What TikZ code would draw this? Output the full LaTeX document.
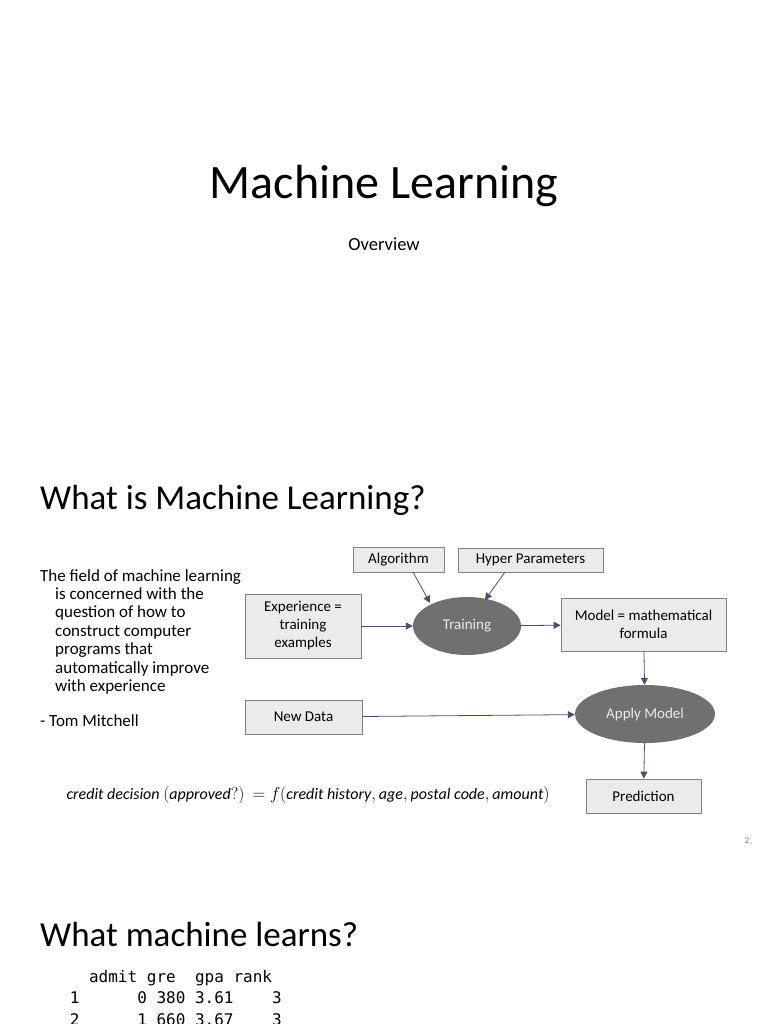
\documentclass[tikz,border=0pt]{standalone}
\usepackage{fontspec}
\setmainfont{Carlito}
\newfontfamily\monof{DejaVu Sans Mono}
\usetikzlibrary{shapes.geometric,arrows.meta}
\begin{document}
\begin{tikzpicture}[x=1pt,y=-1pt,
  bx/.style={draw=black!50,fill=black!8,line width=0.8pt,minimum height=#1,align=center,font=\fontsize{15}{18}\selectfont,inner sep=2pt},
  bx/.default=25pt,
  ell/.style={ellipse,fill=black!56,text=black!8,font=\fontsize{15}{18}\selectfont,inner sep=0pt},
  arr/.style={-{Triangle[length=7pt,width=7pt]},draw=black!60!blue!40!gray,line width=0.8pt}]
\useasboundingbox (0,0) rectangle (768,1024);
\node[font=\fontsize{48}{56}\selectfont] (title) at (384,186) {Machine Learning};
\node[font=\fontsize{18.5}{22}\selectfont] (sub) at (384,244) {Overview};
\node[font=\fontsize{35}{40}\selectfont,anchor=west,inner sep=0pt] (h1) at (40,500) {What is Machine Learning?};
\node[anchor=north west,align=left,font=\fontsize{17}{18.4}\selectfont,inner sep=0pt] (txt) at (40,569)
 {The field of machine learning\\\hspace*{15pt}is concerned with the\\\hspace*{15pt}question of how to\\\hspace*{15pt}construct computer\\\hspace*{15pt}programs that\\\hspace*{15pt}automatically improve\\\hspace*{15pt}with experience};
\node[anchor=west,font=\fontsize{17}{18}\selectfont,inner sep=0pt] (tm) at (40,721) {- Tom Mitchell};
\node[bx,minimum width=91pt] (alg) at (398.5,559.5) {Algorithm};
\node[bx,minimum width=145pt,minimum height=24pt] (hyp) at (530.5,560) {Hyper Parameters};
\node[bx=64pt,minimum width=116pt] (exp) at (303,626) {Experience =\\training\\examples};
\node[ell,minimum width=108pt,minimum height=58pt] (tr) at (467,626) {Training};
\node[bx=53pt,minimum width=165pt] (mod) at (643.5,624.5) {Model = mathematical\\formula};
\node[ell,minimum width=140pt,minimum height=58pt] (app) at (645,714) {Apply Model};
\node[bx=34pt,minimum width=117pt] (nd) at (303.5,717) {New Data};
\node[bx=34pt,minimum width=115pt] (pred) at (643.5,796) {Prediction};
\coordinate (a1) at (413,572);
\coordinate (a2) at (430,603);
\coordinate (h1s) at (505,572);
\coordinate (h2e) at (485,600);
\draw[arr] (a1) -- (a2);
\draw[arr] (h1s) -- (h2e);
\draw[arr] (exp) -- (tr);
\draw[arr] (tr) -- (mod);
\draw[arr] (nd) -- (app);
\draw[arr] (mod) -- (app);
\draw[arr] (app) -- (pred);
\node[font=\fontsize{16}{18}\selectfont] (f) at (308,795) {$\mathit{credit\ decision}\ (\mathit{approved?})\ = f(\mathit{credit\ history}, \mathit{age}, \mathit{postal\ code}, \mathit{amount})$};
\node[font=\fontsize{9}{10}\selectfont,text=black!50] (pg) at (747,841) {2};
\node[font=\fontsize{35}{40}\selectfont,anchor=west,inner sep=0pt] (h2) at (40,934) {What machine learns?};
\node[anchor=west,font=\monof\fontsize{16}{21.5}\selectfont,inner sep=0pt,align=left] (tab) at (60,998)
 {\ \ \ admit gre \ gpa rank\\ \ 1 \ \ \ \ \ 0 380 3.61 \ \ \ 3\\ \ 2 \ \ \ \ \ 1 660 3.67 \ \ \ 3};
\end{tikzpicture}
\end{document}
